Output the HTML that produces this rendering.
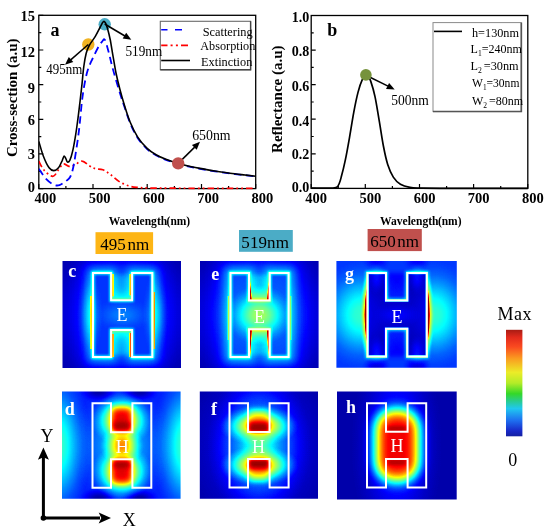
<!DOCTYPE html>
<html><head><meta charset="utf-8"><title>Figure</title>
<style>
html,body{margin:0;padding:0;background:#fff;}
svg{display:block;}
text{font-family:"Liberation Serif",serif;}
.b{font-weight:bold;}
</style></head><body>
<svg width="550" height="531" viewBox="0 0 550 531">
<defs>
<filter id="jet" filterUnits="userSpaceOnUse" x="0" y="0" width="550" height="531" color-interpolation-filters="sRGB">
<feComponentTransfer>
<feFuncR type="table" tableValues="0 0 0 0 0.5 1 1 1 0.5"/>
<feFuncG type="table" tableValues="0 0 0.5 1 1 1 0.5 0 0"/>
<feFuncB type="table" tableValues="0.52 1 1 1 0.5 0 0 0 0"/>
</feComponentTransfer>
</filter>

<filter id="b05" filterUnits="userSpaceOnUse" x="0" y="0" width="550" height="531" color-interpolation-filters="sRGB"><feGaussianBlur stdDeviation="0.5"/></filter>
<filter id="b1" filterUnits="userSpaceOnUse" x="0" y="0" width="550" height="531" color-interpolation-filters="sRGB"><feGaussianBlur stdDeviation="1"/></filter>
<filter id="b15" filterUnits="userSpaceOnUse" x="0" y="0" width="550" height="531" color-interpolation-filters="sRGB"><feGaussianBlur stdDeviation="1.5"/></filter>
<filter id="b2" filterUnits="userSpaceOnUse" x="0" y="0" width="550" height="531" color-interpolation-filters="sRGB"><feGaussianBlur stdDeviation="2"/></filter>
<filter id="b3" filterUnits="userSpaceOnUse" x="0" y="0" width="550" height="531" color-interpolation-filters="sRGB"><feGaussianBlur stdDeviation="3"/></filter>
<filter id="b4" filterUnits="userSpaceOnUse" x="0" y="0" width="550" height="531" color-interpolation-filters="sRGB"><feGaussianBlur stdDeviation="4"/></filter>
<filter id="b6" filterUnits="userSpaceOnUse" x="0" y="0" width="550" height="531" color-interpolation-filters="sRGB"><feGaussianBlur stdDeviation="6"/></filter>
<filter id="b8" filterUnits="userSpaceOnUse" x="0" y="0" width="550" height="531" color-interpolation-filters="sRGB"><feGaussianBlur stdDeviation="8"/></filter>
<filter id="b12" filterUnits="userSpaceOnUse" x="0" y="0" width="550" height="531" color-interpolation-filters="sRGB"><feGaussianBlur stdDeviation="12"/></filter>
<linearGradient id="cbar" x1="0" y1="0" x2="0" y2="1">
<stop offset="0" stop-color="#a81c14"/>
<stop offset="0.07" stop-color="#e22a1c"/>
<stop offset="0.16" stop-color="#fa4a20"/>
<stop offset="0.27" stop-color="#fa9c20"/>
<stop offset="0.40" stop-color="#ecec28"/>
<stop offset="0.50" stop-color="#b4ec28"/>
<stop offset="0.60" stop-color="#34d828"/>
<stop offset="0.67" stop-color="#28cc90"/>
<stop offset="0.74" stop-color="#20c8f0"/>
<stop offset="0.85" stop-color="#1e70f0"/>
<stop offset="0.95" stop-color="#1828c8"/>
<stop offset="1" stop-color="#1420a0"/>
</linearGradient>

<radialGradient id="rg">
<stop offset="0" stop-color="#fff" stop-opacity="1"/>
<stop offset="0.15" stop-color="#fff" stop-opacity="0.95"/>
<stop offset="0.3" stop-color="#fff" stop-opacity="0.8"/>
<stop offset="0.45" stop-color="#fff" stop-opacity="0.58"/>
<stop offset="0.6" stop-color="#fff" stop-opacity="0.36"/>
<stop offset="0.75" stop-color="#fff" stop-opacity="0.17"/>
<stop offset="0.9" stop-color="#fff" stop-opacity="0.05"/>
<stop offset="1" stop-color="#fff" stop-opacity="0"/>
</radialGradient>
<radialGradient id="rk">
<stop offset="0" stop-color="#000" stop-opacity="1"/>
<stop offset="0.15" stop-color="#000" stop-opacity="0.95"/>
<stop offset="0.3" stop-color="#000" stop-opacity="0.8"/>
<stop offset="0.45" stop-color="#000" stop-opacity="0.58"/>
<stop offset="0.6" stop-color="#000" stop-opacity="0.36"/>
<stop offset="0.75" stop-color="#000" stop-opacity="0.17"/>
<stop offset="0.9" stop-color="#000" stop-opacity="0.05"/>
<stop offset="1" stop-color="#000" stop-opacity="0"/>
</radialGradient>

</defs>
<rect x="0" y="0" width="550" height="531" fill="#fff"/>
<g id="chartA">
<clipPath id="cpA"><rect x="38.8" y="15.3" width="216.9" height="174.5"/></clipPath>
<rect x="38.8" y="15.3" width="216.9" height="173.3" fill="none" stroke="#000" stroke-width="1.3"/>
<path d="M38.8 188.6h4.5M38.8 153.9h4.5M38.8 119.3h4.5M38.8 84.6h4.5M38.8 50.0h4.5M38.8 15.3h4.5M38.8 171.3h2.5M38.8 136.6h2.5M38.8 102.0h2.5M38.8 67.3h2.5M38.8 32.6h2.5M38.8 188.6v-4.5M93.0 188.6v-4.5M147.2 188.6v-4.5M201.5 188.6v-4.5M255.7 188.6v-4.5M65.9 188.6v-2.5M120.1 188.6v-2.5M174.4 188.6v-2.5M228.6 188.6v-2.5" stroke="#000" stroke-width="1.2" fill="none"/>
<circle cx="88.3" cy="44.5" r="6.2" fill="#f0b323"/>
<circle cx="104.7" cy="24.3" r="6.2" fill="#4bacc6"/>
<g clip-path="url(#cpA)" fill="none" stroke-linejoin="round">
<path d="M38.8 161.2C39.7 162.8 42.0 168.1 44.4 170.6C46.8 173.1 50.5 176.5 52.9 176.3C55.2 176.2 56.8 171.8 58.5 169.7C60.2 167.6 61.5 164.6 63.2 164.0C64.9 163.4 67.0 166.1 68.9 166.3C70.8 166.5 72.3 165.8 74.5 165.0C76.7 164.2 79.6 161.0 82.1 161.2C84.6 161.3 87.4 164.7 89.6 165.9C91.8 167.2 93.1 168.1 95.3 168.7C97.5 169.3 100.3 168.8 102.8 169.7C105.3 170.6 107.5 172.4 110.3 174.4C113.1 176.4 116.6 180.0 119.7 181.9C122.8 183.8 126.2 185.1 129.2 186.0C132.2 186.9 134.7 187.1 137.7 187.4C140.7 187.7 141.6 187.9 147.0 188.0C152.4 188.1 161.2 188.1 170.0 188.2C178.8 188.2 185.8 188.3 200.0 188.3C214.2 188.3 245.8 188.4 255.0 188.4" stroke="#ff0000" stroke-width="1.7" stroke-dasharray="6.5 3 1.8 3 1.8 3"/>
<path d="M38.8 168.7C40.0 170.4 43.8 176.4 46.3 179.1C48.8 181.8 51.6 183.7 53.8 184.7C56.0 185.7 57.5 185.7 59.5 185.1C61.5 184.5 64.4 182.3 66.1 181.0C67.8 179.7 68.7 179.4 69.8 177.5C70.9 175.6 71.8 173.5 72.7 169.7C73.7 165.9 74.6 160.2 75.5 154.6C76.4 148.9 77.5 141.8 78.3 135.8C79.1 129.8 79.6 124.8 80.2 118.8C80.8 112.8 81.4 105.6 82.1 100.0C82.8 94.4 83.4 90.2 84.3 85.3C85.2 80.3 86.3 74.7 87.7 70.3C89.1 65.9 90.5 63.1 92.4 59.0C94.3 54.9 97.3 48.8 99.0 45.8C100.7 42.8 101.7 42.1 102.6 41.0C103.5 39.9 103.7 39.0 104.3 39.3C104.9 39.6 105.2 40.0 106.0 42.6C106.8 45.2 108.4 51.0 109.4 55.0C110.4 59.0 111.1 62.3 112.2 66.5C113.3 70.7 114.6 75.2 116.0 80.0C117.4 84.8 119.3 91.0 120.7 95.5C122.1 100.0 122.9 102.4 124.5 107.0C126.1 111.6 127.9 117.8 130.1 123.0C132.3 128.2 134.9 133.7 137.7 138.0C140.5 142.3 144.0 146.1 147.1 149.0C150.2 151.9 153.4 153.7 156.5 155.5C159.6 157.3 162.3 158.4 165.9 159.8C169.5 161.2 174.1 162.7 178.2 163.9C182.3 165.1 186.8 166.1 190.4 166.9C194.0 167.7 195.9 168.1 200.0 168.8C204.1 169.5 210.0 170.5 215.0 171.3C220.0 172.1 225.0 172.8 230.0 173.5C235.0 174.2 240.7 174.7 245.0 175.2C249.3 175.7 253.9 176.2 255.7 176.4" stroke="#0000ff" stroke-width="1.8" stroke-dasharray="7.5 4.5"/>
<path d="M38.8 141.4C39.6 143.9 41.8 152.1 43.5 156.5C45.2 160.9 47.4 165.5 49.1 167.8C50.8 170.2 52.2 170.6 53.8 170.6C55.4 170.6 57.1 169.5 58.5 167.8C59.9 166.1 61.3 162.2 62.3 160.3C63.2 158.4 63.6 156.3 64.2 156.1C64.8 155.9 65.5 158.0 66.0 159.0C66.5 160.0 66.8 161.9 67.4 162.1C68.0 162.3 68.9 162.2 69.8 160.3C70.7 158.4 71.8 154.9 72.7 150.8C73.7 146.7 74.6 141.1 75.5 135.8C76.4 130.5 77.1 124.8 77.9 118.8C78.7 112.8 79.5 105.8 80.2 100.0C80.9 94.2 81.4 89.6 82.0 84.0C82.6 78.4 83.1 71.6 83.8 66.5C84.5 61.4 85.3 56.8 86.2 53.3C87.1 49.8 87.7 48.3 89.2 45.5C90.7 42.7 93.5 39.4 95.3 36.4C97.1 33.4 98.7 29.9 100.0 27.5C101.3 25.1 102.5 22.4 103.4 21.7C104.3 20.9 104.8 21.9 105.5 23.0C106.2 24.1 106.7 25.7 107.5 28.5C108.3 31.3 109.3 35.2 110.3 40.0C111.2 44.8 112.2 51.6 113.2 57.1C114.2 62.6 114.9 67.7 116.0 73.0C117.1 78.3 118.4 83.6 119.8 89.0C121.2 94.4 122.8 100.0 124.5 105.5C126.2 111.0 127.9 116.7 130.1 122.0C132.3 127.3 134.9 132.7 137.7 137.1C140.5 141.5 144.0 145.4 147.1 148.4C150.2 151.4 153.4 153.2 156.5 155.0C159.6 156.8 162.3 157.9 165.9 159.3C169.5 160.7 174.1 162.2 178.2 163.4C182.3 164.6 186.8 165.7 190.4 166.5C194.0 167.3 195.9 167.7 200.0 168.4C204.1 169.2 210.0 170.2 215.0 171.0C220.0 171.8 225.0 172.5 230.0 173.2C235.0 173.9 240.7 174.5 245.0 175.0C249.3 175.5 253.9 176.0 255.7 176.2" stroke="#000" stroke-width="1.6"/>
</g>
<path d="M88.3 44.5L70.7 59.9" stroke="#000" stroke-width="1.5" fill="none"/>
<path d="M65.0 64.8L68.8 57.0L73.3 62.1Z" fill="#000"/>
<path d="M104.7 24.0L124.9 36.0" stroke="#000" stroke-width="1.5" fill="none"/>
<path d="M131.3 39.8L122.7 38.6L126.2 32.8Z" fill="#000"/>
<path d="M178.2 163.4L194.7 147.1" stroke="#000" stroke-width="1.5" fill="none"/>
<path d="M200.0 141.8L196.7 149.8L191.9 145.0Z" fill="#000"/>
<circle cx="178.2" cy="163.4" r="6.2" fill="#c0504d"/>
<rect x="160.3" y="21.3" width="90.3" height="48.4" fill="#fff" stroke="#6a6a6a" stroke-width="1.1"/>
<path d="M160.3 69.7h90.3V21.3" fill="none" stroke="#444" stroke-width="1.4"/>
<path d="M161.2 29.8h6.3M175 29.8h7" stroke="#0000ff" stroke-width="1.6"/>
<path d="M161.2 45.4h6.3M170.6 45.4h2M175.9 45.4h2M181 45.4h7" stroke="#ff0000" stroke-width="1.6"/>
<path d="M161.2 60.5h28.8" stroke="#000" stroke-width="1.6"/>
<text x="202.7" y="35.5" font-size="13" textLength="50" lengthAdjust="spacingAndGlyphs">Scattering</text>
<text x="200.3" y="50.3" font-size="13" textLength="55" lengthAdjust="spacingAndGlyphs">Absorption</text>
<text x="201.1" y="65.8" font-size="13" textLength="51.2" lengthAdjust="spacingAndGlyphs">Extinction</text>
<text x="46.3" y="74.3" font-size="15" textLength="36" lengthAdjust="spacingAndGlyphs">495nm</text>
<text x="125.4" y="56.3" font-size="15" textLength="36.8" lengthAdjust="spacingAndGlyphs">519nm</text>
<text x="192.2" y="139.8" font-size="15" textLength="38.4" lengthAdjust="spacingAndGlyphs">650nm</text>
<text class="b" x="35" y="20.9" font-size="14.5" text-anchor="end">15</text>
<text class="b" x="35" y="56.6" font-size="14.5" text-anchor="end">12</text>
<text class="b" x="35" y="92.9" font-size="14.5" text-anchor="end">9</text>
<text class="b" x="35" y="125.2" font-size="14.5" text-anchor="end">6</text>
<text class="b" x="35" y="159.1" font-size="14.5" text-anchor="end">3</text>
<text class="b" x="35" y="192.2" font-size="14.5" text-anchor="end">0</text>
<text class="b" x="45.4" y="203.4" font-size="14.5" text-anchor="middle">400</text>
<text class="b" x="99.6" y="203.4" font-size="14.5" text-anchor="middle">500</text>
<text class="b" x="153.8" y="203.4" font-size="14.5" text-anchor="middle">600</text>
<text class="b" x="208.1" y="203.4" font-size="14.5" text-anchor="middle">700</text>
<text class="b" x="262.3" y="203.4" font-size="14.5" text-anchor="middle">800</text>
<text class="b" y="224.6"><tspan x="108.7" font-size="12.5" textLength="58.5" lengthAdjust="spacingAndGlyphs">Wavelength</tspan><tspan x="166.6" font-size="11.5" textLength="23.6">(nm)</tspan></text>
<text class="b" transform="translate(16.5 97.8) rotate(-90)" font-size="14.5" text-anchor="middle" textLength="118.5" lengthAdjust="spacingAndGlyphs">Cross-section (a.u)</text>
<text class="b" x="50.6" y="36" font-size="18">a</text>
</g>
<g id="chartB">
<rect x="311.2" y="15.5" width="216.6" height="172.9" fill="none" stroke="#000" stroke-width="1.3"/>
<path d="M311.2 188.4h4.5M311.2 153.8h4.5M311.2 119.2h4.5M311.2 84.7h4.5M311.2 50.1h4.5M311.2 15.5h4.5M311.2 171.1h2.5M311.2 136.5h2.5M311.2 102.0h2.5M311.2 67.4h2.5M311.2 32.8h2.5M311.2 188.4v-4.5M365.3 188.4v-4.5M419.5 188.4v-4.5M473.6 188.4v-4.5M527.8 188.4v-4.5M338.3 188.4v-2.5M392.4 188.4v-2.5M446.6 188.4v-2.5M500.7 188.4v-2.5" stroke="#000" stroke-width="1.2" fill="none"/>
<path d="M311.2 188.2C313.5 188.2 321.4 188.2 325.0 188.2C328.6 188.2 331.0 188.2 333.0 188.0C335.0 187.8 335.8 188.0 336.8 187.3C337.8 186.6 338.3 185.6 339.0 184.0C339.7 182.4 340.1 181.6 341.1 177.6C342.2 173.6 343.9 166.9 345.3 160.2C346.7 153.5 348.1 145.6 349.5 137.6C350.9 129.6 352.4 119.6 353.8 112.1C355.2 104.6 356.6 97.8 358.0 92.4C359.4 87.0 361.0 82.4 362.3 79.7C363.6 77.0 364.6 76.4 365.6 76.0C366.6 75.6 367.6 76.7 368.5 77.5C369.4 78.3 369.6 77.9 370.7 81.1C371.8 84.3 373.6 90.0 375.0 96.6C376.4 103.2 377.8 112.4 379.2 120.6C380.6 128.8 382.0 138.7 383.4 146.0C384.8 153.3 386.0 159.2 387.7 164.4C389.4 169.6 391.2 173.8 393.3 177.1C395.4 180.4 397.6 182.5 400.4 184.2C403.2 185.9 406.7 186.7 410.0 187.3C413.3 188.0 415.0 187.9 420.0 188.1C425.0 188.3 422.0 188.3 440.0 188.3C458.0 188.3 513.2 188.3 527.8 188.3" stroke="#000" stroke-width="1.7" fill="none" stroke-linejoin="round"/>
<path d="M366.5 75.5L388.0 86.2" stroke="#000" stroke-width="1.5" fill="none"/>
<path d="M394.7 89.6L386.0 89.1L389.1 83.0Z" fill="#000"/>
<circle cx="365.9" cy="74.9" r="5.8" fill="#76923c"/>
<text x="391.2" y="104.8" font-size="15" textLength="37.6" lengthAdjust="spacingAndGlyphs">500nm</text>
<rect x="433" y="22.6" width="88" height="89" fill="#fff" stroke="#8a8a8a" stroke-width="1"/>
<path d="M433 111.6h88.4V22.6" fill="none" stroke="#555" stroke-width="1.5"/>
<path d="M434 31.4h28" stroke="#000" stroke-width="1.6"/>
<text x="472" y="36.6" font-size="13.5" textLength="47" lengthAdjust="spacingAndGlyphs">h=130nm</text>
<text x="470.6" y="53" font-size="13.5" textLength="51.4" lengthAdjust="spacingAndGlyphs">L<tspan font-size="8.5" dy="3">1</tspan><tspan dy="-3">=240nm</tspan></text>
<text x="470.6" y="70" font-size="13.5" textLength="48" lengthAdjust="spacingAndGlyphs">L<tspan font-size="8.5" dy="3">2</tspan><tspan dy="-3" dx="2">=30nm</tspan></text>
<text x="472" y="87" font-size="13.5" textLength="47.4" lengthAdjust="spacingAndGlyphs">W<tspan font-size="8.5" dy="3">1</tspan><tspan dy="-3">=30nm</tspan></text>
<text x="472" y="105" font-size="13.5" textLength="51" lengthAdjust="spacingAndGlyphs">W<tspan font-size="8.5" dy="3">2</tspan><tspan dy="-3" dx="2">=80nm</tspan></text>
<text class="b" x="309.4" y="22.4" font-size="14.5" text-anchor="end" textLength="17.6" lengthAdjust="spacingAndGlyphs">1.0</text>
<text class="b" x="309.4" y="56.4" font-size="14.5" text-anchor="end" textLength="17.6" lengthAdjust="spacingAndGlyphs">0.8</text>
<text class="b" x="309.4" y="90.6" font-size="14.5" text-anchor="end" textLength="17.6" lengthAdjust="spacingAndGlyphs">0.6</text>
<text class="b" x="309.4" y="125.6" font-size="14.5" text-anchor="end" textLength="17.6" lengthAdjust="spacingAndGlyphs">0.4</text>
<text class="b" x="309.4" y="159.4" font-size="14.5" text-anchor="end" textLength="17.6" lengthAdjust="spacingAndGlyphs">0.2</text>
<text class="b" x="309.4" y="192.1" font-size="14.5" text-anchor="end" textLength="17.6" lengthAdjust="spacingAndGlyphs">0.0</text>
<text class="b" x="316.2" y="203.4" font-size="14.5" text-anchor="middle">400</text>
<text class="b" x="370.3" y="203.4" font-size="14.5" text-anchor="middle">500</text>
<text class="b" x="424.5" y="203.4" font-size="14.5" text-anchor="middle">600</text>
<text class="b" x="478.6" y="203.4" font-size="14.5" text-anchor="middle">700</text>
<text class="b" x="532.8" y="203.4" font-size="14.5" text-anchor="middle">800</text>
<text class="b" y="224.6"><tspan x="380" font-size="12.5" textLength="58.5" lengthAdjust="spacingAndGlyphs">Wavelength</tspan><tspan x="437.9" font-size="11.5" textLength="23.6">(nm)</tspan></text>
<text class="b" transform="translate(281.6 99.2) rotate(-90)" font-size="14.5" text-anchor="middle" textLength="107.5" lengthAdjust="spacingAndGlyphs">Reflectance (a.u)</text>
<text class="b" x="327.3" y="35.8" font-size="18">b</text>
</g>
<rect x="95.5" y="232.2" width="57.6" height="21.8" fill="#fdb515"/>
<text x="100.3" y="250" font-size="17">495<tspan dx="1.6">nm</tspan></text>
<rect x="239" y="230" width="53.8" height="21.8" fill="#4bacc6"/>
<text x="241.3" y="247.5" font-size="17" textLength="47.6">519nm</text>
<rect x="367.6" y="229" width="54.2" height="22.1" fill="#c0504d"/>
<text x="370.2" y="247" font-size="17">650<tspan dx="1.6">nm</tspan></text>
<rect x="506" y="329.8" width="16.4" height="106.5" fill="url(#cbar)"/>
<text x="497.5" y="319.8" font-size="18" textLength="33.9">Max</text>
<text x="508.2" y="465.5" font-size="18">0</text>
<path d="M43.4 518V456M43.4 518H100" stroke="#000" stroke-width="3" fill="none"/>
<path d="M43.4 447.5L48.9 459.8L43.4 457.2L37.9 459.8Z" fill="#000"/>
<path d="M111 518L98.7 523.5L101.3 518L98.7 512.5Z" fill="#000"/>
<circle cx="43.4" cy="518" r="2.8" fill="#000"/>
<text x="40.5" y="441.5" font-size="18">Y</text>
<text x="122.8" y="526.2" font-size="18">X</text>
<g id="pc">
<clipPath id="cpc"><rect x="62.5" y="261" width="118.5" height="107"/></clipPath>
<g clip-path="url(#cpc)"><g filter="url(#jet)">
<rect x="42.5" y="241" width="158.5" height="147" fill="#080808"/>
<ellipse cx="122.65" cy="315" rx="100" ry="90" fill="url(#rg)" opacity="0.145"/>
<path d="M93 273H111.1V300.3H132.1V273H152.3V357H132.1V330H111.1V357H93Z" fill="none" stroke="#fff" stroke-width="24" opacity="0.07" filter="url(#b8)"/>
<path d="M93 273H111.1V300.3H132.1V273H152.3V357H132.1V330H111.1V357H93Z" fill="none" stroke="#fff" stroke-width="11" opacity="0.17" filter="url(#b4)"/>
<path d="M93 273H111.1V300.3H132.1V273H152.3V357H132.1V330H111.1V357H93Z" fill="#2d2d2d"/>
<path d="M93 273H111.1V300.3H132.1V273H152.3V357H132.1V330H111.1V357H93Z" fill="none" stroke="#fff" stroke-width="3.4" opacity="0.24" filter="url(#b1)"/>
<rect x="111.1" y="275" width="21" height="25.3" fill="#fff" opacity="0.07" filter="url(#b2)"/>
<rect x="111.1" y="330" width="21" height="25" fill="#fff" opacity="0.09" filter="url(#b2)"/>
<ellipse cx="122.65" cy="315" rx="30" ry="17" fill="url(#rg)" opacity="0.09"/>
<rect x="112.3" y="274" width="1.4" height="22.3" fill="#fff" opacity="0.55" filter="url(#b05)"/>
<rect x="129.5" y="274" width="1.4" height="21.3" fill="#fff" opacity="0.5" filter="url(#b05)"/>
<rect x="112.3" y="334" width="1.4" height="23" fill="#fff" opacity="0.7" filter="url(#b05)"/>
<rect x="129.5" y="333" width="1.4" height="24" fill="#fff" opacity="0.7" filter="url(#b05)"/>
<ellipse cx="90" cy="315" rx="13" ry="42" fill="url(#rg)" opacity="0.13"/>
<ellipse cx="155.3" cy="315" rx="13" ry="42" fill="url(#rg)" opacity="0.13"/>
<rect x="90.4" y="296" width="1.2" height="53" fill="#fff" opacity="0.62" filter="url(#b05)"/>
<rect x="153.7" y="292" width="1.2" height="57" fill="#fff" opacity="0.62" filter="url(#b05)"/>
</g></g>
<path d="M93 273H111.1V300.3H132.1V273H152.3V357H132.1V330H111.1V357H93Z" fill="none" stroke="#fff" stroke-width="2" stroke-linejoin="miter"/>
<text class="b" x="68.3" y="276.8" font-size="18" fill="#fff">c</text>
<text x="121.9" y="321.3" font-size="18" fill="#fff" text-anchor="middle">E</text>
</g>
<g id="pe">
<clipPath id="cpe"><rect x="200" y="261" width="118.6" height="107"/></clipPath>
<g clip-path="url(#cpe)"><g filter="url(#jet)">
<rect x="180" y="241" width="158.6" height="147" fill="#080808"/>
<ellipse cx="259.55" cy="315" rx="102" ry="92" fill="url(#rg)" opacity="0.15"/>
<path d="M230.5 273H249V300.5H269.7V273H288.6V357H269.7V329.2H249V357H230.5Z" fill="none" stroke="#fff" stroke-width="26" opacity="0.08" filter="url(#b8)"/>
<path d="M230.5 273H249V300.5H269.7V273H288.6V357H269.7V329.2H249V357H230.5Z" fill="none" stroke="#fff" stroke-width="12" opacity="0.17" filter="url(#b4)"/>
<path d="M230.5 273H249V300.5H269.7V273H288.6V357H269.7V329.2H249V357H230.5Z" fill="#333333"/>
<path d="M230.5 273H249V300.5H269.7V273H288.6V357H269.7V329.2H249V357H230.5Z" fill="none" stroke="#fff" stroke-width="3.4" opacity="0.25" filter="url(#b1)"/>
<rect x="249" y="275" width="20.7" height="25.5" fill="#fff" opacity="0.08" filter="url(#b2)"/>
<rect x="249" y="329.2" width="20.7" height="25.8" fill="#fff" opacity="0.08" filter="url(#b2)"/>
<ellipse cx="259.55" cy="315" rx="52" ry="42" fill="url(#rg)" opacity="0.07"/>
<ellipse cx="259.55" cy="315" rx="34" ry="30" fill="url(#rg)" opacity="0.38"/>
<path d="M250 281L250 299.5L251.7 299.5Z" fill="#fff" opacity="0.9" filter="url(#b05)"/>
<path d="M268.7 281L268.7 299.5L267 299.5Z" fill="#fff" opacity="0.9" filter="url(#b05)"/>
<path d="M250 357L250 330.2L251.9 330.2Z" fill="#fff" opacity="0.9" filter="url(#b05)"/>
<path d="M268.7 357L268.7 330.2L266.8 330.2Z" fill="#fff" opacity="0.9" filter="url(#b05)"/>
<rect x="227.7" y="296" width="1.2" height="44" fill="#fff" opacity="0.3" filter="url(#b05)"/>
<rect x="290.2" y="296" width="1.2" height="44" fill="#fff" opacity="0.25" filter="url(#b05)"/>
</g></g>
<path d="M230.5 273H249V300.5H269.7V273H288.6V357H269.7V329.2H249V357H230.5Z" fill="none" stroke="#fff" stroke-width="2" stroke-linejoin="miter"/>
<text class="b" x="211.2" y="279.8" font-size="18" fill="#fff">e</text>
<text x="259.5" y="322.6" font-size="18" fill="#fff" text-anchor="middle">E</text>
</g>
<g id="pg">
<clipPath id="cpg"><rect x="336.4" y="261" width="120.4" height="106.8"/></clipPath>
<g clip-path="url(#cpg)"><g filter="url(#jet)">
<rect x="316.4" y="241" width="160.4" height="146.8" fill="#2e2e2e"/>
<ellipse cx="361.5" cy="314.75" rx="46" ry="54" fill="url(#rg)" opacity="0.3"/>
<ellipse cx="432.8" cy="314.75" rx="46" ry="54" fill="url(#rg)" opacity="0.3"/>
<ellipse cx="376.5" cy="366" rx="15" ry="10" fill="url(#rk)" opacity="0.55"/>
<ellipse cx="376.5" cy="262" rx="15" ry="9" fill="url(#rk)" opacity="0.35"/>
<ellipse cx="417" cy="366" rx="15" ry="10" fill="url(#rk)" opacity="0.55"/>
<ellipse cx="417" cy="262" rx="15" ry="9" fill="url(#rk)" opacity="0.35"/>
<rect x="386" y="273" width="21.3" height="27.5" fill="#000" opacity="0.3" filter="url(#b2)"/>
<rect x="386" y="328.8" width="21.3" height="27.7" fill="#000" opacity="0.3" filter="url(#b2)"/>
<path d="M367.5 273H386V300.5H407.3V273H426.8V356.5H407.3V328.8H386V356.5H367.5Z" fill="none" stroke="#fff" stroke-width="4" opacity="0.2" filter="url(#b15)"/>
<path d="M367.5 273H386V300.5H407.3V273H426.8V356.5H407.3V328.8H386V356.5H367.5Z" fill="#000" opacity="0.76"/>
<ellipse cx="397.15" cy="314.75" rx="24" ry="15" fill="url(#rg)" opacity="0.07"/>
<ellipse cx="376.75" cy="277" rx="10" ry="18" fill="url(#rg)" opacity="0.09"/>
<ellipse cx="376.75" cy="352.5" rx="10" ry="18" fill="url(#rg)" opacity="0.09"/>
<ellipse cx="417.05" cy="277" rx="10" ry="18" fill="url(#rg)" opacity="0.09"/>
<ellipse cx="417.05" cy="352.5" rx="10" ry="18" fill="url(#rg)" opacity="0.09"/>
<path d="M367.5 273H386V300.5H407.3V273H426.8V356.5H407.3V328.8H386V356.5H367.5Z" fill="none" stroke="#fff" stroke-width="2.4" opacity="0.3" filter="url(#b05)"/>
<path d="M366.5 275Q359 314.75 366.5 355Z" fill="#fff" opacity="0.4" filter="url(#b15)"/>
<path d="M366.5 288Q362.7 314.75 366.5 342Z" fill="#fff" opacity="0.95" filter="url(#b05)"/>
<path d="M427.8 275Q435.3 314.75 427.8 355Z" fill="#fff" opacity="0.4" filter="url(#b15)"/>
<path d="M427.8 288Q431.6 314.75 427.8 342Z" fill="#fff" opacity="0.95" filter="url(#b05)"/>
</g></g>
<path d="M367.5 273H386V300.5H407.3V273H426.8V356.5H407.3V328.8H386V356.5H367.5Z" fill="none" stroke="#fff" stroke-width="2" stroke-linejoin="miter"/>
<text class="b" x="345" y="279.8" font-size="18" fill="#fff">g</text>
<text x="396.9" y="322.6" font-size="18" fill="#fff" text-anchor="middle">E</text>
</g>
<g id="pd">
<clipPath id="cpd"><rect x="62" y="391.5" width="118.6" height="107.2"/></clipPath>
<g clip-path="url(#cpd)"><g filter="url(#jet)">
<rect x="42" y="371.5" width="158.6" height="147.2" fill="#282828"/>
<ellipse cx="57" cy="445.55" rx="34" ry="78" fill="url(#rg)" opacity="0.34"/>
<ellipse cx="186" cy="445.55" rx="34" ry="78" fill="url(#rg)" opacity="0.34"/>
<ellipse cx="121.9" cy="445.55" rx="50" ry="64" fill="url(#rg)" opacity="0.2"/>
<ellipse cx="98.5" cy="390.5" rx="20" ry="13" fill="url(#rk)" opacity="0.85"/>
<ellipse cx="98.5" cy="499.5" rx="20" ry="13" fill="url(#rk)" opacity="0.85"/>
<ellipse cx="140" cy="390.5" rx="20" ry="13" fill="url(#rk)" opacity="0.85"/>
<ellipse cx="140" cy="499.5" rx="20" ry="13" fill="url(#rk)" opacity="0.85"/>
<ellipse cx="121.9" cy="445.55" rx="22" ry="20" fill="url(#rg)" opacity="0.62"/>
<ellipse cx="121.9" cy="419.5" rx="31" ry="27" fill="url(#rg)" opacity="0.62"/>
<ellipse cx="121.9" cy="472.5" rx="31" ry="28" fill="url(#rg)" opacity="0.62"/>
<rect x="112" y="408" width="19.4" height="23" fill="#fff" opacity="0.66" filter="url(#b3)"/>
<rect x="112" y="460" width="19.4" height="23" fill="#fff" opacity="0.66" filter="url(#b3)"/>
<rect x="113" y="422" width="17.4" height="9" fill="#fff" opacity="0.7" filter="url(#b2)"/>
<rect x="113" y="460" width="17.4" height="8" fill="#fff" opacity="0.7" filter="url(#b2)"/>
</g></g>
<path d="M92.5 403.3H111V432.2H132.4V403.3H151.3V487.8H132.4V459.2H111V487.8H92.5Z" fill="none" stroke="#fff" stroke-width="2" stroke-linejoin="miter"/>
<text class="b" x="64.8" y="415" font-size="18" fill="#fff">d</text>
<text x="122.3" y="452.8" font-size="18" fill="#fff" text-anchor="middle">H</text>
</g>
<g id="pf">
<clipPath id="cpf"><rect x="199.8" y="391.5" width="118.2" height="107.2"/></clipPath>
<g clip-path="url(#cpf)"><g filter="url(#jet)">
<rect x="179.8" y="371.5" width="158.2" height="147.2" fill="#0a0a0a"/>
<ellipse cx="259.05" cy="445.45" rx="75" ry="95" fill="url(#rg)" opacity="0.12"/>
<ellipse cx="259.05" cy="445.45" rx="52" ry="78" fill="url(#rg)" opacity="0.24"/>
<ellipse cx="259.05" cy="425.5" rx="40" ry="20" fill="url(#rg)" opacity="0.62"/>
<ellipse cx="259.05" cy="465.5" rx="40" ry="20" fill="url(#rg)" opacity="0.62"/>
<rect x="249" y="410" width="19.6" height="19" fill="#fff" opacity="0.27" filter="url(#b3)"/>
<rect x="249" y="462" width="19.6" height="19" fill="#fff" opacity="0.27" filter="url(#b3)"/>
<ellipse cx="259.05" cy="445.45" rx="22" ry="16" fill="url(#rg)" opacity="0.17"/>
<rect x="249" y="422" width="19.6" height="9.5" fill="#fff" opacity="0.85" filter="url(#b2)"/>
<rect x="249" y="460" width="19.6" height="9" fill="#fff" opacity="0.85" filter="url(#b2)"/>
<rect x="250" y="427" width="17.6" height="4.5" fill="#fff" opacity="0.5" filter="url(#b1)"/>
<rect x="250" y="460" width="17.6" height="4.5" fill="#fff" opacity="0.5" filter="url(#b1)"/>
</g></g>
<path d="M229.5 403.3H248V432H269.6V403.3H288.6V487.6H269.6V459H248V487.6H229.5Z" fill="none" stroke="#fff" stroke-width="2" stroke-linejoin="miter"/>
<text class="b" x="211" y="415" font-size="18" fill="#fff">f</text>
<text x="258.4" y="452.5" font-size="18" fill="#fff" text-anchor="middle">H</text>
</g>
<g id="ph">
<clipPath id="cph"><rect x="337" y="391.4" width="119.7" height="108.1"/></clipPath>
<g clip-path="url(#cph)"><g filter="url(#jet)">
<rect x="317" y="371.4" width="159.7" height="148.1" fill="#0a0a0a"/>
<ellipse cx="396.6" cy="445.45" rx="46" ry="110" fill="url(#rg)" opacity="0.16"/>
<rect x="374.5" y="409" width="45.5" height="73" rx="20" fill="#fff" opacity="0.68" filter="url(#b6)"/>
<rect x="383" y="419" width="28.5" height="53" rx="11" fill="#fff" opacity="0.58" filter="url(#b4)"/>
<rect x="388" y="426" width="17.6" height="5" fill="#fff" opacity="0.5" filter="url(#b15)"/>
<rect x="388" y="460" width="17.6" height="5" fill="#fff" opacity="0.5" filter="url(#b15)"/>
</g></g>
<path d="M367 403.3H386V431.7H407.6V403.3H426.2V487.6H407.6V459H386V487.6H367Z" fill="none" stroke="#fff" stroke-width="2" stroke-linejoin="miter"/>
<text class="b" x="346" y="413.3" font-size="18" fill="#fff">h</text>
<text x="397" y="451.7" font-size="18" fill="#fff" text-anchor="middle">H</text>
</g>
</svg></body></html>
